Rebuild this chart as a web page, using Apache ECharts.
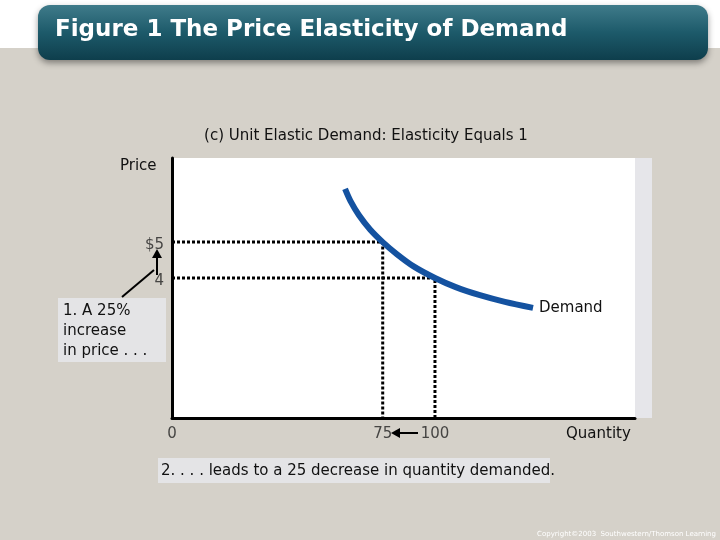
<!DOCTYPE html><html><head><meta charset="utf-8"><script src="https://cdn.jsdelivr.net/npm/echarts@6/dist/echarts.min.js"></script>
<style>html,body{margin:0;padding:0;background:#d5d1c9}#c{width:720px;height:540px}</style></head><body><div id="c"></div><script>
const demandQ=[61.6,63.5,66.5,70.5,75,80,86,93.6,101,109.6,118.5,128.5];
const demandP=[6.51,6.17,5.77,5.36,5,4.66,4.31,3.98,3.72,3.49,3.30,3.13];
const priceTicks=[{v:5,label:'$5'},{v:3.98,label:'4'}];
const qtyTicks=[{v:0,label:'0'},{v:75,label:'75'},{v:93.6,label:'100'}];
const refPoints=[[75,5],[93.6,3.98]];
const chart=echarts.init(document.getElementById('c'));
const F='DejaVu Sans, sans-serif';
const series=[{type:'line',data:demandQ.map((q,i)=>[q,demandP[i]]),smooth:0.3,symbol:'none',lineStyle:{color:'#1452a0',width:6},z:5}];
refPoints.forEach(p=>{series.push({type:'line',data:[[0,p[1]],[p[0],p[1]],[p[0],0]],symbol:'none',lineStyle:{color:'#000',width:3,type:[3,2]},z:3});});
series.push({type:'scatter',symbolSize:0,data:priceTicks.map(t=>[0,t.v,t.label]),label:{show:true,position:'left',distance:8,offset:[0,3],formatter:p=>p.data[2],fontSize:15,color:'#222',fontFamily:F}});
series.push({type:'scatter',symbolSize:0,data:qtyTicks.map(t=>[t.v,0,t.label]),label:{show:true,position:'bottom',distance:9,formatter:p=>p.data[2],fontSize:15,color:'#222',fontFamily:F}});
chart.setOption({animation:false,
grid:{left:172,top:158,width:463,height:260,show:true,backgroundColor:'#fff',borderWidth:0},
xAxis:{type:'value',min:0,max:164.8,axisLine:{show:true,lineStyle:{color:'#000',width:3}},axisTick:{show:false},axisLabel:{show:false},splitLine:{show:false}},
yAxis:{type:'value',min:0,max:7.39,axisLine:{show:true,lineStyle:{color:'#000',width:3}},axisTick:{show:false},axisLabel:{show:false},splitLine:{show:false}},
series,
graphic:[
{type:'rect',shape:{x:0,y:0,width:720,height:48},style:{fill:'#fff'},z:-10},
{type:'rect',shape:{x:635,y:158,width:17,height:260},style:{fill:'#e6e6ea'}},
{type:'rect',shape:{x:38,y:5,width:670,height:55,r:12},style:{fill:new echarts.graphic.LinearGradient(0,0,0,1,[{offset:0,color:'#3f7b8a'},{offset:0.5,color:'#1d5a6a'},{offset:1,color:'#0e3e4c'}]),shadowBlur:6,shadowColor:'rgba(0,0,0,0.4)',shadowOffsetY:3}},
{type:'text',x:55,y:30,style:{text:'Figure 1 The Price Elasticity of Demand',fill:'#fff',font:'bold 23px '+F,textVerticalAlign:'middle'}},
{type:'text',x:366,y:136,style:{text:'(c) Unit Elastic Demand: Elasticity Equals 1',fill:'#111',font:'15px '+F,textAlign:'center',textVerticalAlign:'middle'}},
{type:'text',x:120,y:166,style:{text:'Price',fill:'#111',font:'15px '+F,textVerticalAlign:'middle'}},
{type:'text',x:539,y:308,style:{text:'Demand',fill:'#111',font:'15px '+F,textVerticalAlign:'middle'}},
{type:'text',x:566,y:434,style:{text:'Quantity',fill:'#111',font:'15px '+F,textVerticalAlign:'middle'}},
{type:'rect',shape:{x:58,y:298,width:108,height:64},style:{fill:'#e4e4e6'}},
{type:'text',x:63,y:301,style:{text:'1. A 25%\nincrease\nin price . . .',fill:'#111',font:'15px '+F,lineHeight:20}},
{type:'line',shape:{x1:122,y1:297,x2:154,y2:270},style:{stroke:'#000',lineWidth:2}},
{type:'line',shape:{x1:157,y1:275,x2:157,y2:255},style:{stroke:'#000',lineWidth:2}},
{type:'polygon',shape:{points:[[152,258],[162,258],[157,249]]},style:{fill:'#000'}},
{type:'line',shape:{x1:418,y1:433,x2:398,y2:433},style:{stroke:'#000',lineWidth:2}},
{type:'polygon',shape:{points:[[400,428],[400,438],[391,433]]},style:{fill:'#000'}},
{type:'rect',shape:{x:158,y:458,width:392,height:25},style:{fill:'#e4e4e6'}},
{type:'text',x:161,y:471,style:{text:'2. . . . leads to a 25 decrease in quantity demanded.',fill:'#111',font:'15px '+F,textVerticalAlign:'middle'}},
{type:'text',x:716,y:534,style:{text:'Copyright©2003  Southwestern/Thomson Learning',fill:'#fff',font:'7px '+F,textAlign:'right',textVerticalAlign:'middle'}}
]});
</script></body></html>
